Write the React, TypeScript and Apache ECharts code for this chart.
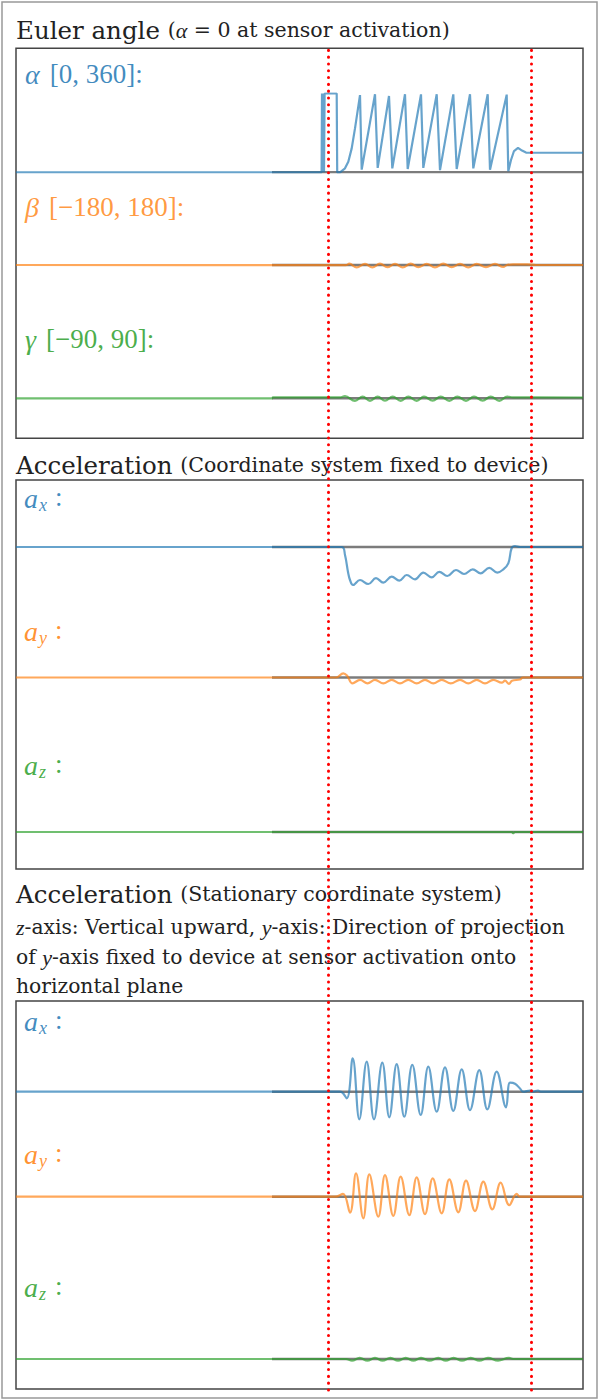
import React, { useEffect, useRef } from 'react';
import * as echarts from 'echarts';

// time axis (s)
const T_MAX = 28.35;
const REF_START = 12.8;
const MARKER_TIMES = [15.6, 25.775];

// Euler angles (deg)
const alphaData = [[0,0],[15.28,0],[15.3,359],[15.33,0],[15.36,359],[15.4,0],[15.43,359],[16.035,359],[16.06,0],[16.2,0],[16.45,18],[16.615,48],[16.785,109],[16.95,200],[17.2,352],[17.285,12],[17.95,356],[18.085,20],[18.65,348],[18.815,18],[19.45,356],[19.585,15],[20.25,355],[20.365,20],[21.035,356],[21.2,10],[21.865,355],[22.035,15],[22.7,356],[22.865,18],[23.585,356],[23.7,12],[24.535,354],[24.615,5],[24.75,56],[24.9,97],[25.1,111],[25.3,99],[25.5,90],[25.75,89],[28.35,89]];
const betaData = [[0,0],[12.8,-1],[16.4,-1],[16.535,0],[16.665,6],[17.035,-11],[17.45,5],[17.815,-11],[18.2,6],[18.565,-10],[18.95,5],[19.335,-11],[19.735,6],[20.115,-10],[20.535,5],[20.95,-11],[21.365,6],[21.785,-10],[22.2,5],[22.615,-11],[23.035,5],[23.5,-10],[23.95,5],[24.365,-9],[24.55,0],[24.85,3],[25.55,3],[26.0,0],[28.35,0]];
const gammaData = [[0,0],[12.8,0],[12.85,2.3],[16.2,2.3],[16.45,4.9],[16.95,-5.7],[17.335,3.8],[17.7,-5.7],[18.085,3.8],[18.45,-5.6],[18.835,3.8],[19.235,-5.7],[19.615,3.7],[20.035,-5.7],[20.4,3.8],[20.835,-5.6],[21.235,3.8],[21.665,-5.7],[22.065,3.7],[22.5,-5.7],[22.9,3.8],[23.335,-5.6],[23.735,3.8],[24.165,-5.7],[24.565,3.8],[24.85,2],[28.35,1.8]];

// Acceleration, device frame (m/s^2)
const devAx = [[0,0],[16.285,0],[16.45,-2],[16.6,-6.25],[16.7,-8.25],[16.85,-9.5],[17.2,-8.25],[17.615,-9.25],[18.0,-7.8],[18.365,-8.9],[18.785,-7.4],[19.165,-8.4],[19.535,-7.0],[19.95,-8.1],[20.365,-6.4],[20.785,-7.6],[21.165,-6.2],[21.565,-7.25],[22.0,-5.75],[22.4,-6.75],[22.835,-5.6],[23.235,-6.6],[23.665,-5.2],[24.065,-6.4],[24.365,-5.6],[24.615,-4.1],[24.785,-0.25],[24.95,0.25],[25.2,0],[28.35,0]];
const devAy = [[0,0],[16.0,0],[16.365,1.05],[16.55,0.5],[16.825,-1.45],[17.2,-0.6],[17.575,-1.45],[17.95,-0.6],[18.365,-1.45],[18.785,-0.6],[19.2,-1.45],[19.615,-0.6],[20.035,-1.45],[20.45,-0.6],[20.865,-1.45],[21.285,-0.6],[21.74,-1.45],[22.2,-0.6],[22.615,-1.45],[23.035,-0.6],[23.45,-1.45],[23.865,-0.6],[24.285,-1.3],[24.45,-0.8],[24.65,-1.6],[24.8,-0.8],[25.2,-0.5],[25.35,0],[28.35,0]];
const devAz = [[0,0],[24.8,0],[24.85,-0.3],[24.95,0],[28.35,0]];

// Acceleration, stationary frame (m/s^2)
const stAx = [[0,0],[16.2,0],[16.535,-1.65],[16.835,8.35],[17.165,-6.9],[17.535,7.5],[17.9,-6.9],[18.315,7.25],[18.665,-6.4],[19.035,6.9],[19.415,-6.25],[19.815,6.7],[20.235,-5.8],[20.615,6.25],[21.035,-5.0],[21.45,6.1],[21.865,-4.8],[22.285,5.6],[22.7,-4.6],[23.165,5.4],[23.565,-4.4],[24.035,5.0],[24.5,-3.9],[24.7,2.25],[24.95,2.0],[25.2,0.8],[25.365,0],[25.7,0.3],[25.85,0],[26.1,0.3],[26.25,0],[28.35,0]];
const stAy = [[0,0],[15.95,0],[16.35,0.7],[16.7,-4.0],[17.0,5.85],[17.365,-5.4],[17.665,5.6],[18.115,-5.0],[18.45,5.4],[18.865,-4.8],[19.235,5.0],[19.665,-4.6],[20.035,4.85],[20.45,-4.35],[20.835,4.6],[21.285,-4.15],[21.665,4.35],[22.115,-3.9],[22.5,4.0],[22.95,-3.6],[23.365,3.75],[23.815,-3.15],[24.235,3.5],[24.665,-2.1],[25.035,0.7],[25.2,0],[28.35,0]];
const stAz = [[0,0],[16.5,0],[16.8,-0.4],[17.185,0.3],[17.57,-0.4],[17.95,0.3],[18.33,-0.4],[18.72,0.3],[19.1,-0.4],[19.485,0.3],[19.87,-0.4],[20.25,0.3],[20.68,-0.4],[21.11,0.3],[21.49,-0.4],[21.875,0.3],[22.3,-0.4],[22.735,0.3],[23.17,-0.4],[23.6,0.3],[24.1,-0.4],[24.65,0.3],[24.85,0],[28.35,0]];

const BLUE = '#1f77b4';
const ORANGE = '#ff7f0e';
const GREEN = '#2ca02c';

const TITLE_FONT = 'DejaVu Serif';
const MATH_FONT = 'Liberation Serif';

export default function App() {
  const ref = useRef<HTMLDivElement>(null);
  useEffect(() => {
    const chart = echarts.init(ref.current as HTMLDivElement, null, { renderer: 'svg' });
    const L = 16, W = 567;
    const traces = [
      { data: alphaData, color: BLUE, top: 93.3, h: 79, min: 0, max: 360, smooth: false },
      { data: betaData, color: ORANGE, top: 225.5, h: 79, min: -180, max: 180, smooth: 0.4 },
      { data: gammaData, color: GREEN, top: 358.8, h: 79, min: -90, max: 90, smooth: 0.4 },
      { data: devAx, color: BLUE, top: 507, h: 80, min: -10, max: 10, smooth: 0.4 },
      { data: devAy, color: ORANGE, top: 637.5, h: 80, min: -10, max: 10, smooth: 0.4 },
      { data: devAz, color: GREEN, top: 792, h: 80, min: -10, max: 10, smooth: 0.4 },
      { data: stAx, color: BLUE, top: 1051.7, h: 80, min: -10, max: 10, smooth: 0.4 },
      { data: stAy, color: ORANGE, top: 1156.7, h: 80, min: -10, max: 10, smooth: 0.4 },
      { data: stAz, color: GREEN, top: 1319, h: 80, min: -10, max: 10, smooth: 0.4 },
    ];
    const grid: any[] = [];
    const xAxis: any[] = [];
    const yAxis: any[] = [];
    const series: any[] = [];
    traces.forEach((tr, i) => {
      grid.push({ left: L, width: W, top: tr.top, height: tr.h, show: false });
      xAxis.push({ type: 'value', gridIndex: i, min: 0, max: T_MAX, show: false });
      yAxis.push({ type: 'value', gridIndex: i, min: tr.min, max: tr.max, show: false });
      series.push({
        type: 'line', xAxisIndex: i, yAxisIndex: i, showSymbol: false, symbol: 'none', silent: true,
        data: [[REF_START, 0], [T_MAX, 0]],
        lineStyle: { color: '#444', width: 2.4, opacity: 0.7 }, z: 2,
      });
      series.push({
        type: 'line', xAxisIndex: i, yAxisIndex: i, showSymbol: false, symbol: 'none', silent: true,
        data: tr.data, smooth: tr.smooth,
        lineStyle: { color: tr.color, width: 2.2, opacity: 0.68 }, z: 3,
      });
    });
    // marker grid spanning all panels
    const mi = traces.length;
    grid.push({ left: L, width: W, top: 48, height: 1342, show: false });
    xAxis.push({ type: 'value', gridIndex: mi, min: 0, max: T_MAX, show: false });
    yAxis.push({ type: 'value', gridIndex: mi, min: 0, max: 1, show: false });
    series.push({
      type: 'line', xAxisIndex: mi, yAxisIndex: mi, data: [[0, 0]], symbol: 'none', silent: true,
      lineStyle: { opacity: 0 }, z: 20,
      markLine: {
        silent: true, symbol: 'none', animation: false, label: { show: false },
        lineStyle: { color: '#ff0000', width: 3, type: [0.1, 6.7], cap: 'round', opacity: 1 },
        data: MARKER_TIMES.map((t) => ({ xAxis: t })),
      },
    });

    const txt = (x: number, y: number, text: string, rich: any, opacity = 1) => ({
      type: 'text', x, y, z: 5,
      style: { text, rich, fill: '#222', opacity, verticalAlign: 'middle', align: 'left', fontFamily: TITLE_FONT },
    });
    const titleRich = {
      b: { fontSize: 24.5, fontFamily: TITLE_FONT, fill: '#222' },
      s: { fontSize: 20.5, fontFamily: TITLE_FONT, fill: '#222' },
      m: { fontSize: 22, fontFamily: MATH_FONT, fontStyle: 'italic', fill: '#222' },
    };
    const subRich = {
      s: { fontSize: 20.3, fontFamily: TITLE_FONT, fill: '#222' },
      m: { fontSize: 22, fontFamily: MATH_FONT, fontStyle: 'italic', fill: '#222' },
    };
    const labRich = (c: string) => ({
      i: { fontSize: 28, fontFamily: MATH_FONT, fontStyle: 'italic', fill: c, padding: [0, 10, 0, 0] },
      n: { fontSize: 27, fontFamily: MATH_FONT, fill: c },
    });
    const aLabel = (y: number, sub: string, c: string) => ([
      { type: 'text', x: 24, y, z: 5, style: { text: 'a', fill: c, opacity: 0.85, fontSize: 28, fontFamily: MATH_FONT, fontStyle: 'italic', verticalAlign: 'middle' } },
      { type: 'text', x: 39, y: y + 7, z: 5, style: { text: sub, fill: c, opacity: 0.85, fontSize: 18, fontFamily: MATH_FONT, fontStyle: 'italic', verticalAlign: 'middle' } },
      { type: 'text', x: 55, y: y - 1, z: 5, style: { text: ':', fill: c, opacity: 0.85, fontSize: 27, fontFamily: MATH_FONT, verticalAlign: 'middle' } },
    ]);
    const box = (y: number, h: number) => ({
      type: 'rect', z: 1, shape: { x: L, y, width: W, height: h },
      style: { fill: 'none', stroke: '#444', lineWidth: 1.5 },
    });

    const graphic: any[] = [
      { type: 'rect', z: 0, shape: { x: 2, y: 2, width: 595, height: 1396 }, style: { fill: 'none', stroke: '#999', lineWidth: 1.5 } },
      box(48.3, 390), box(480, 389), box(1001, 388),
      txt(16, 30, '{b|Euler angle }{s|(}{m|α}{s| = 0 at sensor activation)}', titleRich),
      txt(16, 465, '{b|Acceleration }{s|(Coordinate system fixed to device)}', titleRich),
      txt(16, 894, '{b|Acceleration }{s|(Stationary coordinate system)}', titleRich),
      txt(16, 927, '{m|z}{s|-axis: Vertical upward, }{m|y}{s|-axis: Direction of projection}', subRich),
      txt(16, 957, '{s|of }{m|y}{s|-axis fixed to device at sensor activation onto}', subRich),
      txt(16, 986, '{s|horizontal plane}', subRich),
      txt(25, 74, '{i|α}{n|[0, 360]:}', labRich(BLUE), 0.85),
      txt(25, 207, '{i|β}{n|[−180, 180]:}', labRich(ORANGE), 0.8),
      txt(25, 339, '{i|γ}{n|[−90, 90]:}', labRich(GREEN), 0.85),
      ...aLabel(498, 'x', BLUE), ...aLabel(631, 'y', ORANGE), ...aLabel(765, 'z', GREEN),
      ...aLabel(1021, 'x', BLUE), ...aLabel(1154, 'y', ORANGE), ...aLabel(1287, 'z', GREEN),
    ];

    chart.setOption({ animation: false, backgroundColor: '#fff', grid, xAxis, yAxis, series, graphic });
    return () => chart.dispose();
  }, []);
  return <div ref={ref} style={{ position: 'absolute', left: 0, top: 0, width: 600, height: 1400 }} />;
}
